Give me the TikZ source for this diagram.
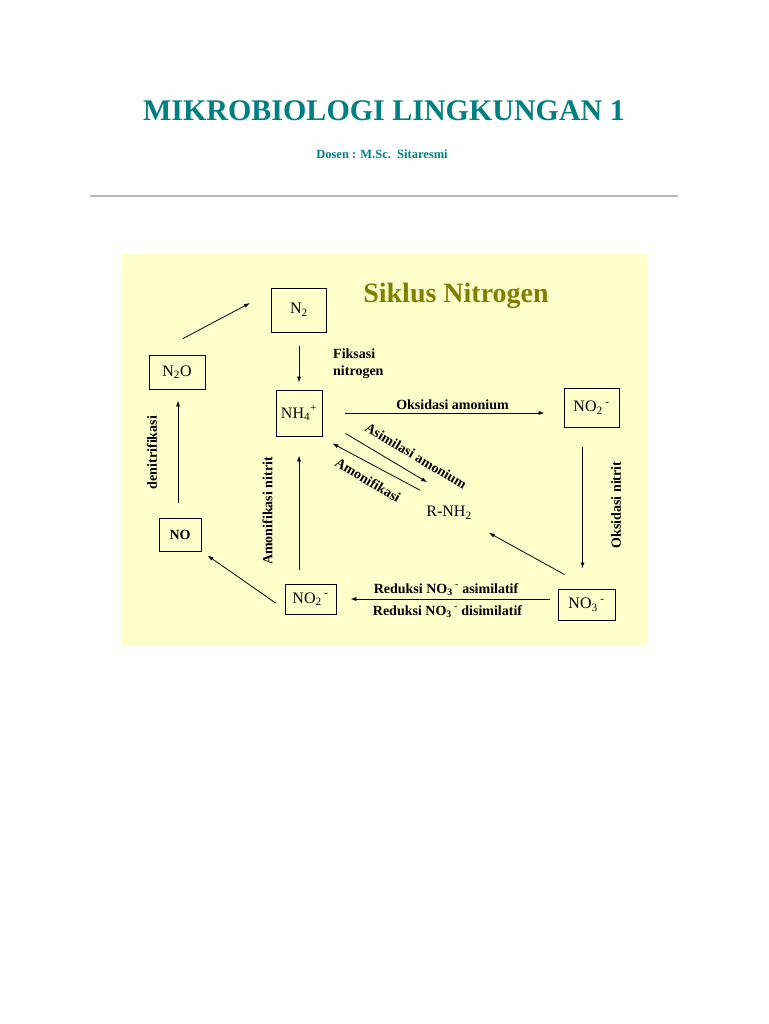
\documentclass[tikz,border=0pt]{standalone}
\usepackage{fontspec}
\setmainfont{Liberation Serif}
\usetikzlibrary{arrows.meta}
\definecolor{judul}{RGB}{0,128,128}
\definecolor{zaitun}{RGB}{128,128,0}
\definecolor{kuning}{RGB}{255,255,204}

\begin{document}
\begin{tikzpicture}[x=1pt,y=-1pt,
    kotak/.style={draw,line width=0.9pt,inner sep=0pt,font=\fontsize{16}{18}\selectfont},
    panah/.style={line width=0.8pt,-{Latex[length=6pt,width=4pt]}},
    ket/.style={font=\bfseries\fontsize{14}{17}\selectfont,inner sep=0pt}]
    \useasboundingbox (0,0) rectangle (768,1024);
    \fill[white] (0,0) rectangle (768,1024);
    \node[text=judul,font=\bfseries\fontsize{30}{34}\selectfont] (judul) at (384,111) {MIKROBIOLOGI LINGKUNGAN 1};
    \node[text=judul,font=\bfseries\fontsize{12.5}{14}\selectfont] (dosen) at (382,154) {Dosen : M.Sc.\ \ Sitaresmi};
    \draw[gray!55,line width=1.5pt] (90,196) -- (678,196);
    \fill[kuning] (122,254) rectangle (648,646);
    \node[text=zaitun,font=\bfseries\fontsize{28}{30}\selectfont,anchor=base] (siklus) at (456,302) {Siklus Nitrogen};

    \node[kotak,minimum width=55pt,minimum height=44pt] (n2) at (299,310) {N\textsubscript{2}};
    \node[kotak,minimum width=56pt,minimum height=34pt] (n2o) at (177,372) {N\textsubscript{2}O};
    \node[kotak,minimum width=46pt,minimum height=46pt] (nh4) at (299,413) {NH\textsubscript{4}\textsuperscript{+}};
    \node[kotak,minimum width=55pt,minimum height=39pt] (no2r) at (591.5,407.5) {NO\textsubscript{2}\,\textsuperscript{-}};
    \node[kotak,minimum width=42pt,minimum height=33pt,font=\bfseries\fontsize{14}{16}\selectfont] (no) at (180,534.5) {NO};
    \node[kotak,minimum width=51pt,minimum height=30pt] (no2b) at (310.5,599) {NO\textsubscript{2}\,\textsuperscript{-}};
    \node[kotak,minimum width=57pt,minimum height=31pt] (no3) at (586.5,604.5) {NO\textsubscript{3}\,\textsuperscript{-}};
    \node[inner sep=0pt,font=\fontsize{16}{18}\selectfont] (rnh2) at (449,513) {R-NH\textsubscript{2}};

    \draw[panah] ([shift={(6,-16)}]n2o.north) -- ([shift={(-21,-7)}]n2.west);
    \draw[panah] ([shift={(0,14)}]n2.south) -- ([shift={(0,-7)}]nh4.north);
    \draw[panah] ([shift={(23,0)}]nh4.east) -- ([shift={(-19,5.5)}]no2r.west);
    \draw[panah] ([shift={(-9,20)}]no2r.south) -- ([shift={(-4,-20)}]no3.north);
    \draw[panah] ([shift={(7,-14)}]no3.north west) -- ([shift={(17,13)}]rnh2.south east);
    \draw[panah] ([shift={(-8,-5.5)}]no3.west) -- ([shift={(14,0)}]no2b.east);
    \draw[panah] ([shift={(-11.5,-14)}]no2b.north) -- ([shift={(0,19)}]nh4.south);
    \draw[panah] ([shift={(-9,4)}]no2b.west) -- ([shift={(6,4)}]no.south east);
    \draw[panah] ([shift={(-2,-15)}]no.north) -- ([shift={(1,11)}]n2o.south);
    \draw[panah] ([shift={(23,-3)}]nh4.south east) -- ([shift={(1,-24)}]rnh2.north west);
    \draw[panah] ([shift={(-6,-16)}]rnh2.north west) -- ([shift={(10,7)}]nh4.south east);

    \node[ket,align=left,anchor=north west] (fiksasi) at (333,349) {Fiksasi\\nitrogen};
    \node[ket,anchor=base] (oksam) at (452.5,409) {Oksidasi amonium};
    \node[ket,rotate=90] (oksnit) at (616,505) {Oksidasi nitrit};
    \node[ket,anchor=base] (redas) at (446,593) {Reduksi NO\textsubscript{3}\,\textsuperscript{-} asimilatif};
    \node[ket,anchor=base] (reddis) at (447.5,615) {Reduksi NO\textsubscript{3}\,\textsuperscript{-} disimilatif};
    \node[ket,rotate=90] (amonit) at (267.5,511) {Amonifikasi nitrit};
    \node[ket,rotate=90] (denit) at (152,452.5) {denitrifikasi};
    \node[ket,rotate=-31] (asim) at (416,456) {Asimilasi amonium};
    \node[ket,rotate=-31] (amon) at (368,480) {Amonifikasi};
\end{tikzpicture}
\end{document}
